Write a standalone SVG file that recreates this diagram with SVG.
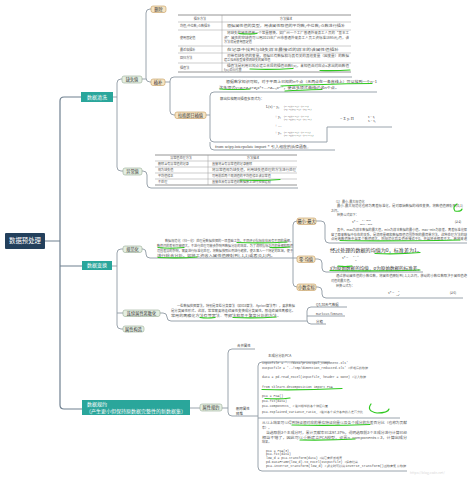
<svg xmlns="http://www.w3.org/2000/svg" width="474" height="479" viewBox="0 0 474 479">
<style>
text{font-family:"Noto Sans CJK SC","Noto Sans",sans-serif;}
.c{fill:none;stroke:#8e9aa4;stroke-width:0.9}
.c0{fill:none;stroke:#6f8090;stroke-width:1.2}
.teal{fill:#2aa69b}
.tw{fill:#fff;font-size:5px}
.gn{fill:#e4eee1;stroke:#98ad95;stroke-width:0.6}
.tn{fill:#f5e4c3;stroke:#c59a5b;stroke-width:0.6}
.nt{font-size:4.2px;fill:#333}
.s{font-size:3.1px;fill:#555}
.m{font-size:3.4px;fill:#444}
.tl{stroke:#9a9a9a;stroke-width:0.5}
.tb{stroke:#888;stroke-width:0.9}
.hl{fill:none;stroke:#2fc81f;stroke-width:1.2;stroke-linecap:round}
.f{font-family:"Liberation Serif",serif;fill:#444}
.code{font-family:"Liberation Mono",monospace;font-size:3.2px;fill:#555}
</style>
<rect width="474" height="479" fill="#fff"/>

<g id="connectors">
<path class="c0" d="M45 241 H60 M82 97 H64 Q60 97 60 101 V405 Q60 409 64 409 H82 M60 266 H82"/>
<path class="c" d="M113 97 H117 M123 79 H121 Q117 79 117 83 V167 Q117 171 121 171 H123"/>
<path class="c" d="M142 79 H146 M151 9 H150 Q146 9 146 13 V78 Q146 82 150 82 H151"/>
<path class="c" d="M165 82 H170 M352 77 H174 Q170 77 170 81 V111 Q170 115 174 115 H175"/>
<path class="c" d="M206 115 H210 M377 92 H214 Q210 92 210 96 V138 Q210 142 214 142 H327 V127 H392 M210 142 V146 Q210 150 214 150 H335"/>
<path class="c" d="M142 171 H143 Q147 171 147 175 V184 Q147 188 151 188 H298"/>
<path class="c" d="M112 266 H117 M123 249 H121 Q117 249 117 253 V325 Q117 329 121 329 H123 M117 313 H123"/>
<path class="c" d="M142 249 H143 Q146 249 146 253 V254 Q146 258 150 258 H293"/>
<path class="c" d="M297 221 Q293 221 293 225 V283 Q293 287 297 287 M293 258 H297"/>
<path class="c" d="M316 221 H321 Q325 221 325 225 V239 Q325 243 329 243 H467"/>
<path class="c" d="M315 259 H318 Q322 259 322 263 V268 Q322 272 326 272 H423"/>
<path class="c" d="M316 287 H318 Q322 287 322 291 V294 Q322 298 326 298 H463"/>
<path class="c" d="M160 313 H163 Q167 313 167 317 Q167 321 171 321 H307 M347 307 H311 Q307 307 307 311 V320 Q307 324 311 324 H326 M307 316 H345"/>
<path class="c" d="M190 408 H200 M222 408 H228 M255 349 H232 Q228 349 228 353 V412 Q228 416 232 416 H258"/>
<path class="c" d="M330 362 H262 Q258 362 258 366 V467 Q258 471 262 471 H407 M258 418 H400"/>
</g>

<g id="root"><rect x="5" y="233" width="40" height="16" rx="1" fill="#23405c"/><text x="25" y="243.3" text-anchor="middle" fill="#fff" font-size="6.4">数据预处理</text></g>

<g id="n-clean"><rect class="teal" x="81" y="92" width="32" height="10"/><text class="tw" x="97" y="98.8" text-anchor="middle">数据清洗</text></g>
<g id="n-trans"><rect class="teal" x="82" y="261" width="30" height="9"/><text class="tw" x="97" y="267.4" text-anchor="middle">数据变换</text></g>
<g id="n-reduce"><rect class="teal" x="82" y="400" width="108" height="15"/><text class="tw" x="87" y="406">数据规约</text><text class="tw" x="86" y="413" font-size="4.6">（产生更小但保持原数据完整性的新数据集）</text></g>

<g id="n-missing"><rect class="gn" x="122" y="76" width="20" height="7" rx="2"/><text class="nt" x="132" y="81" text-anchor="middle">缺失值</text></g>
<g id="n-outlier"><rect class="gn" x="123" y="168" width="19" height="7" rx="2"/><text class="nt" x="132.5" y="173" text-anchor="middle">异常值</text></g>
<g id="n-norm"><rect class="gn" x="123" y="246" width="19" height="6.5" rx="2"/><text class="nt" x="132.5" y="250.8" text-anchor="middle">规范化</text></g>
<g id="n-disc"><rect class="gn" x="123" y="310" width="37" height="6.5" rx="2"/><text class="nt" x="141.5" y="314.8" text-anchor="middle">连续属性离散化</text></g>
<g id="n-cons"><rect class="gn" x="123" y="326" width="21" height="6" rx="2"/><text class="nt" x="133.5" y="330.6" text-anchor="middle">属性构造</text></g>
<g id="n-attr"><rect class="gn" x="200" y="404" width="22" height="7" rx="2"/><text class="nt" x="211" y="409" text-anchor="middle">属性规约</text></g>

<g id="n-del"><rect class="tn" x="151" y="6" width="15" height="6.5" rx="2"/><text class="nt" x="158.5" y="10.8" text-anchor="middle">删除</text></g>
<g id="n-imp"><rect class="tn" x="151" y="79" width="14" height="6.5" rx="2"/><text class="nt" x="158" y="83.8" text-anchor="middle">插补</text></g>
<g id="n-lag"><rect class="tn" x="175" y="112" width="31" height="6.5" rx="2"/><text class="nt" x="190.5" y="116.8" text-anchor="middle">拉格朗日插值</text></g>
<g id="n-minmax"><rect class="tn" x="297" y="218" width="19" height="6.5" rx="2"/><text class="nt" x="306.5" y="222.8" text-anchor="middle">最小-最大</text></g>
<g id="n-zero"><rect class="tn" x="297" y="256" width="18" height="6.5" rx="2"/><text class="nt" x="306" y="260.8" text-anchor="middle">零-均值</text></g>
<g id="n-dec"><rect class="tn" x="297" y="284" width="19" height="6.5" rx="2"/><text class="nt" x="306.5" y="288.8" text-anchor="middle">小数定标</text></g>

<g id="t-impute-table">
<line class="tb" x1="178" y1="15" x2="351" y2="15"/><line class="tl" x1="178" y1="22" x2="351" y2="22"/><line class="tl" x1="178" y1="30" x2="351" y2="30"/><line class="tl" x1="178" y1="46" x2="351" y2="46"/><line class="tl" x1="178" y1="53" x2="351" y2="53"/><line class="tl" x1="178" y1="63" x2="351" y2="63"/><line class="tb" x1="178" y1="72" x2="351" y2="72"/><line class="tl" x1="222" y1="15" x2="222" y2="72"/>
<text class="s" x="200" y="19.8" text-anchor="middle">插补方法</text><text class="s" x="286" y="19.8" text-anchor="middle">方法描述</text>
<text class="s" x="180" y="27.3">均值/中位数/众数插补</text><text class="s" x="227" y="27.3" textLength="118" lengthAdjust="spacingAndGlyphs">根据属性值的类型，用该属性取值的平均数/中位数/众数进行插补</text>
<text class="s" x="180" y="39.3">使用固定值</text><text class="s" x="227" y="34" textLength="122" lengthAdjust="spacingAndGlyphs">将缺失的属性值用一个常量替换。如广州一个工厂普通外来务工人员的“基本工</text><text class="s" x="224" y="38.5" textLength="125" lengthAdjust="spacingAndGlyphs">资”属性的空缺值可以用2015年广州市普通外来务工人员工资标准1895元/月，该</text><text class="s" x="224" y="43">方法就是使用固定值</text>
<text class="s" x="180" y="50.5">最近临插补</text><text class="s" x="227" y="50.5" textLength="112" lengthAdjust="spacingAndGlyphs">在记录中找到与缺失样本最接近的样本的该属性值插补</text>
<text class="s" x="180" y="59">回归方法</text><text class="s" x="227" y="57" textLength="122" lengthAdjust="spacingAndGlyphs">对带有缺失值的变量，根据已有数据和与其有关的其他变量（因变量）的数据</text><text class="s" x="224" y="61.3">建立拟合模型来预测缺失的属性值</text>
<text class="s" x="180" y="69">插值法</text><text class="s" x="227" y="66.8" textLength="122" lengthAdjust="spacingAndGlyphs">插值法是利用已知点建立合适的插值函数f(x)，未知值由对应点xᵢ求出的函数值</text><text class="s" x="224" y="71">f(xᵢ)近似代替</text>
</g>

<g id="t-lagrange">
<text class="m" x="226" y="83" textLength="151" lengthAdjust="spacingAndGlyphs">根据数学知识可知，对于平面上已知的n个点（无两点在一条直线上）可以找到一个n−1</text>
<text class="m" x="219" y="88.5" textLength="120" lengthAdjust="spacingAndGlyphs">次多项式y=a₀+a₁x+a₂x²+…+aₙ₋₁xⁿ⁻¹，使此多项式曲线过这n个点。</text>
<text class="m" x="220" y="100">解出拉格朗日插值多项式为：</text>
<text class="f" font-size="3.6" x="266" y="108">L(x) = y₀</text><text class="f" font-size="2.8" x="284" y="106.5">(x−x₁)(x−x₂)…(x−xₙ)</text><text class="f" font-size="2.8" x="284" y="110">(x₀−x₁)(x₀−x₂)…(x₀−xₙ)</text>
<text class="f" font-size="3.6" x="275" y="118">+ y₁</text><text class="f" font-size="2.8" x="284" y="116.5">(x−x₀)(x−x₂)…(x−xₙ)</text><text class="f" font-size="2.8" x="284" y="120">(x₁−x₀)(x₁−x₂)…(x₁−xₙ)</text>
<text class="f" font-size="3.6" x="275" y="126.5">+ …</text>
<text class="f" font-size="3.6" x="275" y="134">+ yₙ</text><text class="f" font-size="2.8" x="284" y="132.5">(x−x₀)(x−x₁)…(x−xₙ₋₁)</text><text class="f" font-size="2.8" x="284" y="136">(xₙ−x₀)(xₙ−x₁)…(xₙ−xₙ₋₁)</text>
<text class="f" font-size="4.2" x="340" y="120">= Σ yᵢ Π</text><text class="f" font-size="3" x="368" y="117.5">x − xⱼ</text><text class="f" font-size="3" x="368" y="122">xᵢ − xⱼ</text>
<text class="f" font-size="4.4" x="215" y="147.5">from scipy.interpolate import * 引入相应的插值函数。</text>
</g>

<g id="t-outlier-table">
<line class="tb" x1="155" y1="155" x2="297" y2="155"/><line class="tl" x1="155" y1="161" x2="297" y2="161"/><line class="tl" x1="155" y1="167" x2="297" y2="167"/><line class="tl" x1="155" y1="173" x2="297" y2="173"/><line class="tl" x1="155" y1="179" x2="297" y2="179"/><line class="tb" x1="155" y1="185" x2="297" y2="185"/><line class="tl" x1="208" y1="155" x2="208" y2="185"/>
<text class="s" x="181" y="159.3" text-anchor="middle">异常值处理方法</text><text class="s" x="253" y="159.3" text-anchor="middle">方法描述</text>
<text class="s" x="158" y="165.2">删除含有异常值的记录</text><text class="s" x="212" y="165.2">直接将含有异常值的记录删除</text>
<text class="s" x="158" y="171.2">视为缺失值</text><text class="s" x="212" y="171.2" textLength="84" lengthAdjust="spacingAndGlyphs">将异常值视为缺失值，利用缺失值处理的方法进行处理</text>
<text class="s" x="158" y="177.2">平均值修正</text><text class="s" x="212" y="177.2">可用前后两个观测值的平均值修正该异常值</text>
<text class="s" x="158" y="183.2">不处理</text><text class="s" x="212" y="183.2">直接在具有异常值的数据集上进行挖掘建模</text>
</g>

<g id="t-norm">
<text class="s" x="165" y="242" textLength="128" lengthAdjust="spacingAndGlyphs">数据规范化（归一化）处理是数据挖掘的一项基础工作。不同评价指标往往具有不同的量纲，</text>
<text class="s" x="157" y="247" textLength="136" lengthAdjust="spacingAndGlyphs">数值间的差别可能很大，不进行处理可能会影响到数据分析的结果。为了消除指标之间的量纲和取值</text>
<text class="s" x="157" y="252" textLength="136" lengthAdjust="spacingAndGlyphs">范围差异的影响，需要进行标准化处理，将数据按照比例进行缩放，使之落入一个特定的区域，便于</text>
<text class="s" x="157" y="257" textLength="118" lengthAdjust="spacingAndGlyphs">进行综合分析。如将工资收入属性值映射到[-1,1]或者[0,1]内。</text>
</g>

<g id="t-minmax">
<text class="s" x="334" y="202.5">（1）最小-最大规范化</text>
<text class="s" x="337" y="207" textLength="126" lengthAdjust="spacingAndGlyphs">最小-最大规范化也称为离差标准化，是对原始数据的线性变换，将数值值映射到[0,1]</text>
<text class="s" x="331" y="211.5">之间。</text>
<text class="s" x="337" y="216">转换公式如下：</text>
<text class="f" font-size="3.4" x="352" y="223">x* =</text><text class="f" font-size="2.8" x="362" y="221.3">x − min</text><text class="f" font-size="2.8" x="360" y="225">max − min</text>
<text class="f" font-size="3" x="455" y="223">(4-4)</text>
<text class="s" x="337" y="231" textLength="130" lengthAdjust="spacingAndGlyphs">其中，max为样本数据的最大值，min为样本数据的最小值。max−min为极差。离差标准化保</text>
<text class="s" x="331" y="235.5" textLength="136" lengthAdjust="spacingAndGlyphs">留了原来数据中存在的关系，是消除量纲和数据取值范围影响的最简单方法。这种处理方法的缺</text>
<text class="s" x="331" y="240" textLength="136" lengthAdjust="spacingAndGlyphs">点是若数值集中且某个数值很大，则规范化后各值会接近于0，并且将会相差不大。若将来遇</text>
</g>

<g id="t-zero">
<text x="330" y="251.5" font-size="4.4" fill="#333" textLength="92" lengthAdjust="spacingAndGlyphs">经过处理的数据的均值为0，标准差为1。</text>
<text class="f" font-size="3.4" x="342" y="259">x* =</text><text class="f" font-size="2.8" x="353" y="257.3">x − x̄</text><text class="f" font-size="2.8" x="355" y="261">σ</text>
<text x="330" y="269.5" font-size="4.4" fill="#333" textLength="92" lengthAdjust="spacingAndGlyphs">x̄为原始数据的均值，σ为原始数据的标准差。</text>
</g>

<g id="t-dec">
<text class="s" x="336" y="277" textLength="131" lengthAdjust="spacingAndGlyphs">通过移动属性值的小数位数，将属性值映射到[-1,1]之间，移动的小数位数取决于属性值绝</text>
<text class="s" x="331" y="281.5">对值的最大值。</text>
<text class="s" x="336" y="287">转换公式为：</text>
<text class="f" font-size="3.4" x="388" y="294">x* =</text><text class="f" font-size="2.8" x="398" y="292.3">x</text><text class="f" font-size="2.8" x="396" y="296">10ᵏ</text>
<text class="f" font-size="3" x="450" y="294">(4-6)</text>
</g>

<g id="t-disc">
<text class="s" x="177" y="306.5" textLength="118" lengthAdjust="spacingAndGlyphs">一些数据挖掘算法，特别是某些分类算法（如ID3算法、Apriori算法等），要求数据</text>
<text class="s" x="171" y="311.5" textLength="124" lengthAdjust="spacingAndGlyphs">是分类属性形式。这样，常常需要将连续属性变换成分类属性，即连续属性离散化。</text>
<text class="s" x="171" y="316.5" textLength="110" lengthAdjust="spacingAndGlyphs">常用的离散化方法有等宽法、等频法和基于聚类分析的方法。</text>
<text class="m" x="316" y="305.5">Q3,30天气数据</text>
<text class="code" x="316" y="314.5">markcut/kmeans</text>
<text class="m" x="316" y="322.5">分箱</text>
</g>

<g id="t-reduce">
<text class="m" x="237" y="347">合并属性</text>
<text class="m" x="236" y="409.5">删除属性</text>
<text class="m" x="236" y="414.5">降维</text>
<text class="m" x="268" y="356.5">主成分分析PCA</text>
<text class="code" x="262" y="363.5">inputfile = '../data/principal_component.xls'</text>
<text class="code" x="262" y="368.5">outputfile = '../tmp/dimention_reducted.xls' #降维后的数据</text>
<text class="code" x="262" y="377.5">data = pd.read_excel(inputfile, header = None) #读入数据</text>
<text class="code" x="262" y="387.5">from sklearn.decomposition import PCA</text>
<text class="code" x="262" y="397">pca = PCA()</text>
<text class="code" x="262" y="402">pca.fit(data)</text>
<text class="code" x="262" y="407">pca.components_ #返回模型的各个特征向量</text>
<text class="code" x="262" y="413">pca.explained_variance_ratio_ #返回各个成分各自的方差百分比</text>
<text class="s" x="262" y="424" textLength="145" lengthAdjust="spacingAndGlyphs">从以上结果可以得到特征根对应的单位特征向量以及各个成分的方差百分比（也称为贡献</text>
<text class="s" x="262" y="428.5">率）。</text>
<text class="s" x="266" y="434" textLength="141" lengthAdjust="spacingAndGlyphs">当选取前3个主成分时，累计贡献率已达97.37%，说明选取前3个主成分进行计算已经</text>
<text class="s" x="262" y="438.5" textLength="145" lengthAdjust="spacingAndGlyphs">相当不错了，因此可以重新建立PCA模型，设置n_components = 3，计算出成分</text>
<text class="s" x="262" y="443">结果。</text>
<text class="code" x="266" y="451.5">pca = PCA(3)</text>
<text class="code" x="266" y="455">pca.fit(data)</text>
<text class="code" x="266" y="458.5">low_d = pca.transform(data) #用它来降低维度</text>
<text class="code" x="266" y="462.5">pd.DataFrame(low_d).to_excel(outputfile) #保存结果</text>
<text class="code" x="266" y="466.5" textLength="140" lengthAdjust="spacingAndGlyphs">pca.inverse_transform(low_d) #必要时可以用inverse_transform()函数来复原数据</text>
</g>

<g id="highlights">
<path class="hl" d="M239 33.5 Q248 34.5 257 33.5"/>
<path class="hl" d="M250 69 Q270 70 293 68.5 M320 70.5 Q335 71 350 70"/>
<path class="hl" d="M281 86 Q320 84 372 83.5 M220 89 Q238 90 250 89 M285 91 Q300 90 322 89.5"/>
<path class="hl" d="M240 180 Q260 181 280 179.5"/>
<path class="hl" d="M237 242.5 Q262 243.5 287 242 M158 247.5 Q170 249 184 247.5 M270 247.5 Q280 248 290 247 M158 257.5 Q180 258.5 197 257"/>
<path class="hl" d="M457 204 Q452 207 455 211 Q461 212 462 209"/>
<path class="hl" d="M340 240.5 Q380 241.5 460 240"/>
<path class="hl" d="M375 253.5 Q398 254.5 420 252.5 M338 266 Q345 267 352 266"/>
<path class="hl" d="M330 270.5 Q370 271.5 420 270"/>
<path class="hl" d="M200 317.5 Q207 318.5 215 317.5 M233 317.5 Q255 318.5 276 317"/>
<path class="hl" d="M262 389.5 Q300 390.5 342 388.5 M265 398.5 Q280 399.5 290 398 M371 404 Q366 411 377 413 Q388 413 389 409"/>
<path class="hl" d="M292 425 Q330 426 370 424.5 M300 440 Q330 440.5 355 439"/>
</g>

<text x="410" y="474" font-size="3.4" fill="#d8d8d8" font-family="Liberation Sans, sans-serif">https://blog.csdn.net/</text>
</svg>
